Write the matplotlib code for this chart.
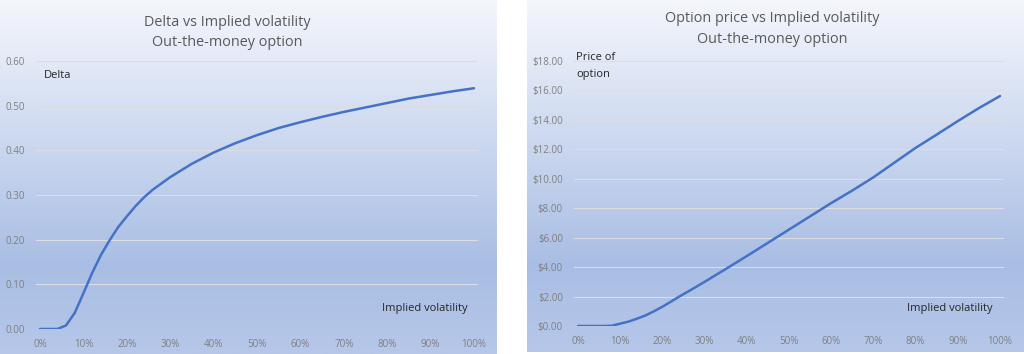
import numpy as np
import matplotlib
matplotlib.use("Agg")
import matplotlib.pyplot as plt
from matplotlib.colors import LinearSegmentedColormap
from matplotlib.ticker import FuncFormatter

# ---- data ----
vol_delta = [0, 2, 4, 6, 8, 10, 12, 14, 16, 18, 20, 22, 24, 26, 28, 30, 35, 40, 45, 50,
             55, 60, 65, 70, 75, 80, 85, 90, 95, 100]
delta = [0.0, 0.0, 0.0, 0.008, 0.036, 0.08, 0.125, 0.165, 0.198, 0.228, 0.252, 0.275,
         0.295, 0.312, 0.326, 0.34, 0.37, 0.395, 0.416, 0.434, 0.45, 0.463, 0.475, 0.486,
         0.496, 0.506, 0.516, 0.524, 0.532, 0.539]

vol_price = [0, 2, 4, 6, 8, 10, 12, 14, 16, 18, 20, 22, 24, 26, 28, 30, 35, 40, 45, 50,
             55, 60, 65, 70, 75, 80, 85, 90, 95, 100]
price = [0.0, 0.0, 0.0, 0.0, 0.02, 0.16, 0.3, 0.5, 0.72, 1.0, 1.31, 1.65, 2.0, 2.33, 2.66,
         3.0, 3.87, 4.75, 5.65, 6.55, 7.45, 8.35, 9.2, 10.1, 11.1, 12.1, 13.0, 13.92, 14.8,
         15.62]

delta_ticks = [0.0, 0.1, 0.2, 0.3, 0.4, 0.5, 0.6]
price_ticks = [0, 2, 4, 6, 8, 10, 12, 14, 16, 18]
x_ticks = [0, 10, 20, 30, 40, 50, 60, 70, 80, 90, 100]

W, H = 1024, 354
fig = plt.figure(figsize=(W / 100, H / 100), dpi=100)
fig.patch.set_facecolor("white")

FONT = ["Open Sans", "DejaVu Sans"]
LINE = "#4472c4"
GRID = "#dcdde3"
TICKC = "#7f7f7f"

cmap = LinearSegmentedColormap.from_list(
    "bg", [(0.0, (244/255, 246/255, 252/255)),
           (0.75, (169/255, 190/255, 228/255)),
           (1.0, (182/255, 199/255, 233/255))])


def px_rect(x0, y0, x1, y1):
    return [x0 / W, 1 - y1 / H, (x1 - x0) / W, (y1 - y0) / H]


def bg(x0, y0, x1, y1):
    a = fig.add_axes(px_rect(x0, y0, x1, y1), zorder=0)
    grad = np.linspace(0, 1, 256).reshape(-1, 1)
    a.imshow(grad, aspect="auto", cmap=cmap, extent=[0, 1, 0, 1], origin="upper")
    a.set_axis_off()


def ftext(x, y, s, **kw):
    fig.text(x / W, 1 - y / H, s, family=FONT, **kw)


bg(0, 0, 497, 354)
bg(527, 0, 1024, 352)


def panel(rect, xs, ys, yticks, ylim, fmt, pad_pct):
    ax = fig.add_axes(rect, zorder=2)
    ax.patch.set_alpha(0)
    ax.plot(xs, ys, color=LINE, lw=1.8, solid_capstyle="round", solid_joinstyle="round",
            zorder=3)
    ax.set_xlim(-pad_pct, 100 + pad_pct)
    ax.set_ylim(*ylim)
    ax.set_yticks(yticks)
    ax.set_xticks(x_ticks)
    ax.xaxis.set_major_formatter(FuncFormatter(lambda v, p: f"{int(v)}%"))
    ax.yaxis.set_major_formatter(FuncFormatter(fmt))
    ax.grid(axis="y", color=GRID, lw=0.8)
    ax.set_axisbelow(True)
    for s in ax.spines.values():
        s.set_visible(False)
    ax.tick_params(length=0, colors=TICKC, labelsize=7)
    ax.tick_params(axis="y", pad=8)
    ax.tick_params(axis="x", pad=7)
    for lab in ax.get_xticklabels() + ax.get_yticklabels():
        lab.set_family(FONT)
    return ax


panel(px_rect(36, 61, 478, 329), vol_delta, delta, delta_ticks, (0, 0.6),
      lambda v, p: f"{v:.2f}", 0.92)
panel(px_rect(574, 61, 1004, 326), vol_price, price, price_ticks, (0, 18),
      lambda v, p: f"${v:.2f}", 0.95)

TC = "#595959"
TS = 10.4
ftext(227, 23, "Delta vs Implied volatility", ha="center", va="center", fontsize=TS, color=TC)
ftext(227, 43, "Out-the-money option", ha="center", va="center", fontsize=TS, color=TC)
ftext(772, 19, "Option price vs Implied volatility", ha="center", va="center", fontsize=TS, color=TC)
ftext(772, 39.5, "Out-the-money option", ha="center", va="center", fontsize=TS, color=TC)

LS = 8
ftext(44, 75, "Delta", ha="left", va="center", fontsize=LS, color="#262626")
ftext(468, 309, "Implied volatility", ha="right", va="center", fontsize=LS, color="#262626")
ftext(576, 57, "Price of", ha="left", va="center", fontsize=LS, color="#262626")
ftext(576, 74, "option", ha="left", va="center", fontsize=LS, color="#262626")
ftext(993, 308, "Implied volatility", ha="right", va="center", fontsize=LS, color="#262626")

fig.savefig("out.png", dpi=100)
